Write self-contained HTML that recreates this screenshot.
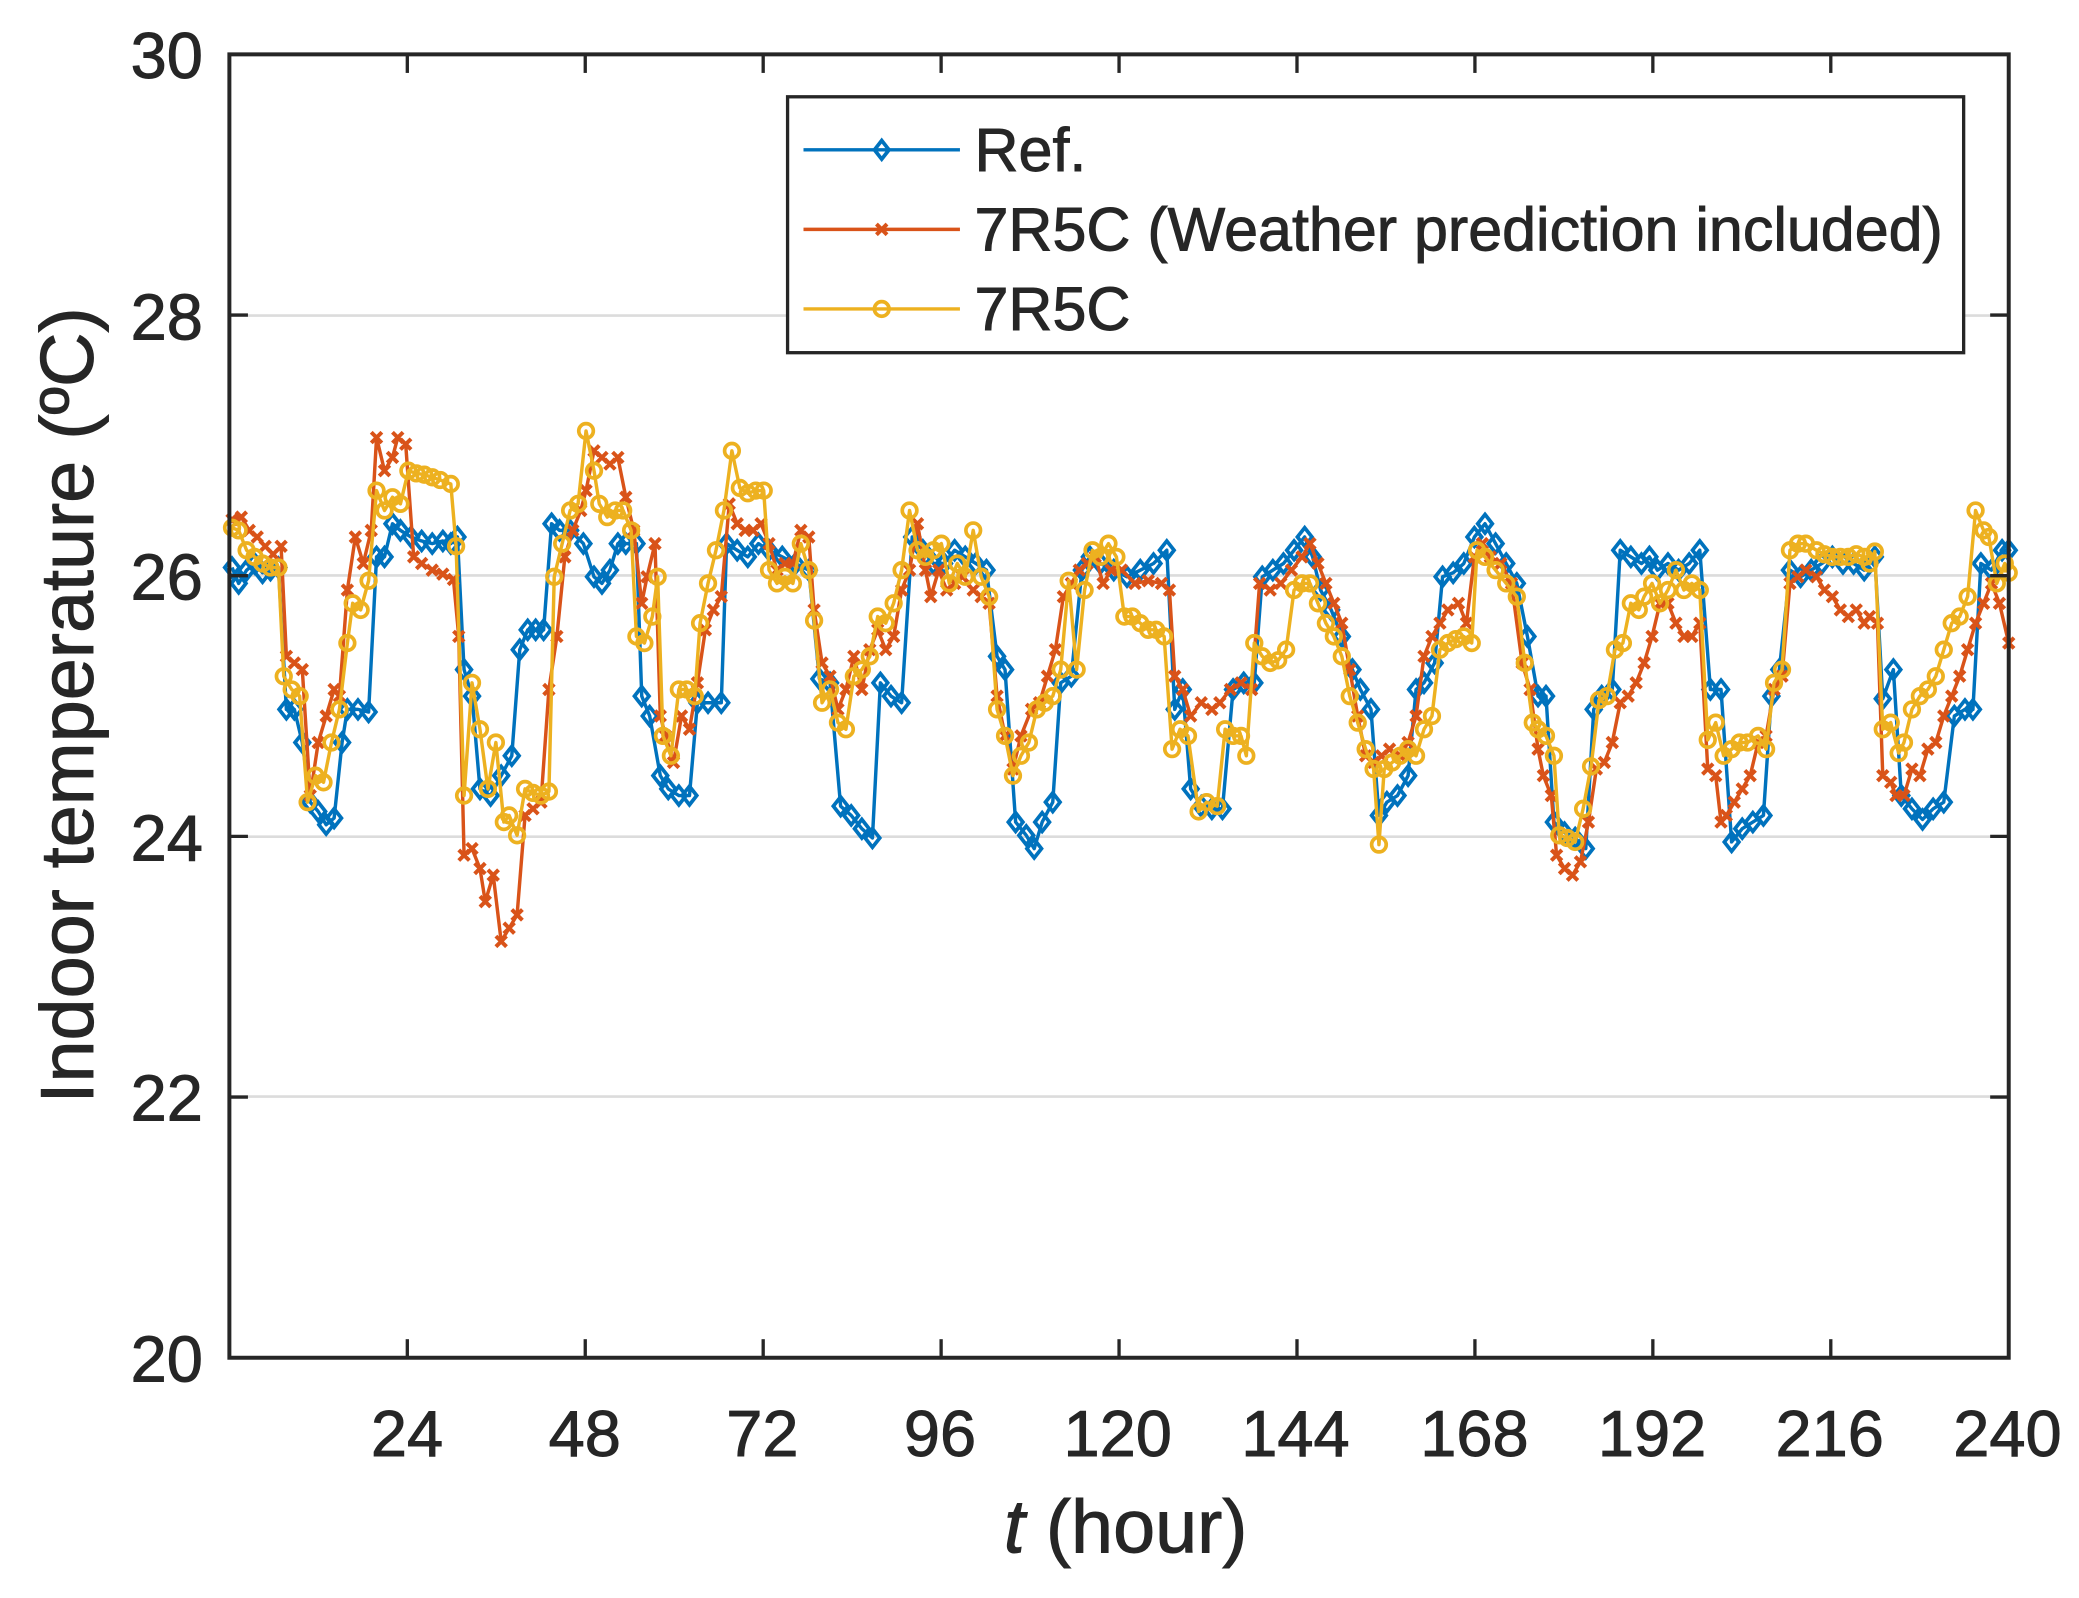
<!DOCTYPE html>
<html><head><meta charset="utf-8"><style>
html,body{margin:0;padding:0;background:#fff;}
svg{display:block;}
text{font-family:"Liberation Sans",Arial,sans-serif;fill:#262626;stroke:#262626;stroke-width:0.7;}
</style></head><body>
<svg id="s" width="2079" height="1598" viewBox="0 0 1568 1205.2" preserveAspectRatio="none" xmlns="http://www.w3.org/2000/svg">
<rect x="0" y="0" width="1568" height="1206" fill="#fff"/>
<g stroke="#dcdcdc" stroke-width="2">
<line x1="173" y1="238" x2="1515" y2="238"/>
<line x1="173" y1="434" x2="1515" y2="434"/>
<line x1="173" y1="631" x2="1515" y2="631"/>
<line x1="173" y1="827" x2="1515" y2="827"/>
</g>
<g id="series"></g>
<g stroke="#262626" stroke-width="3" fill="none">
<rect x="173" y="41" width="1342" height="983"/>
</g>
<g id="ticks" stroke="#262626" stroke-width="2.5"></g>
<g font-size="49" text-anchor="end">
<text x="153" y="59">30</text>
<text x="153" y="256">28</text>
<text x="153" y="452">26</text>
<text x="153" y="649">24</text>
<text x="153" y="845">22</text>
<text x="153" y="1042">20</text>
</g>
<g font-size="49" text-anchor="middle">
<text x="307" y="1098">24</text>
<text x="441" y="1098">48</text>
<text x="575" y="1098">72</text>
<text x="709" y="1098">96</text>
<text x="843" y="1098">120</text>
<text x="977" y="1098">144</text>
<text x="1112" y="1098">168</text>
<text x="1246" y="1098">192</text>
<text x="1380" y="1098">216</text>
<text x="1514" y="1098">240</text>
</g>
<text x="849" y="1171" font-size="57" text-anchor="middle"><tspan font-style="italic">t</tspan> (hour)</text>
<text transform="translate(70,532) rotate(-90)" font-size="57" text-anchor="middle">Indoor temperature (ºC)</text>
<rect x="594" y="73" width="887" height="193" fill="#fff" stroke="#262626" stroke-width="2.5"/>
<g id="leg"></g>
<g font-size="46">
<text x="735" y="129">Ref.</text>
<text x="735" y="189">7R5C (Weather prediction included)</text>
<text x="735" y="249">7R5C</text>
</g>
</svg>
<script>
var NS="http://www.w3.org/2000/svg";
function el(t,a,p){var e=document.createElementNS(NS,t);for(var k in a)e.setAttribute(k,a[k]);p.appendChild(e);return e;}
var tk=document.getElementById('ticks');
for(var i=1;i<10;i++){var x=173+i*134.2;el('line',{x1:x,y1:1024,x2:x,y2:1010},tk);el('line',{x1:x,y1:41,x2:x,y2:55},tk);}
for(var j=1;j<5;j++){var y=41+j*196.6;el('line',{x1:173,y1:y,x2:187,y2:y},tk);el('line',{x1:1515,y1:y,x2:1501,y2:y},tk);}
function P(s){var a=s.split(/[\s,]+/).filter(function(v){return v!=="";}).map(Number),r=[];for(var i=0;i<a.length;i+=2)r.push([a[i],a[i+1]]);return r;}
var blue=P("175 428 180 440 186 430 192 425 198 432 204 430 210 428 216 535 222 535 228 560 234 605 240 612 246 622 252 617 258 560 262 535 270 535 278 537 284 420 290 420 296 395 302 400 310 405 318 408 326 410 334 408 340 410 345 405 350 505 356 525 362 595 370 600 378 585 386 570 392 490 398 475 404 475 410 475 416 395 422 400 430 400 440 410 448 435 454 440 460 430 466 410 472 410 480 410 484 525 490 540 498 585 504 595 512 600 520 600 526 530 534 530 544 530 548 410 556 415 564 420 572 410 580 415 590 420 600 425 610 430 618 512 626 515 634 608 642 615 650 625 658 632 664 515 672 525 680 530 688 405 696 415 704 425 712 425 720 415 728 420 736 425 744 430 752 495 758 505 766 620 774 630 780 640 786 620 794 605 800 515 808 510 816 430 822 420 830 425 840 430 850 435 860 430 870 425 880 415 886 535 892 520 898 595 906 608 914 610 922 610 930 520 938 515 946 515 952 435 960 430 968 425 976 415 984 405 990 420 996 445 1004 460 1012 480 1020 505 1026 520 1034 535 1040 615 1046 605 1054 600 1062 585 1068 520 1074 515 1082 500 1088 435 1096 432 1104 425 1112 405 1120 395 1128 410 1136 425 1144 440 1152 480 1160 525 1166 525 1172 620 1180 628 1188 632 1196 640 1202 535 1208 525 1216 520 1222 415 1230 420 1238 425 1244 420 1250 430 1258 425 1266 430 1274 425 1282 415 1290 520 1298 520 1306 635 1314 625 1322 620 1330 615 1336 525 1342 505 1350 430 1358 435 1366 430 1374 425 1382 420 1390 425 1398 425 1406 430 1414 420 1420 527 1428 505 1434 600 1442 610 1450 618 1458 610 1466 605 1474 540 1482 535 1488 535 1494 425 1502 430 1510 415 1515 415");
var orange=P("175 392 182 390 188 400 194 405 200 412 206 418 212 412 216 495 222 500 228 505 234 600 240 560 246 540 252 520 256 525 262 445 268 405 274 425 280 400 284 330 290 355 296 345 300 330 306 335 312 420 318 425 326 430 334 433 342 437 346 480 350 645 356 640 362 655 366 680 372 660 378 710 384 700 390 690 396 615 402 610 408 605 414 520 420 480 426 420 432 400 438 385 442 370 448 340 454 345 460 350 466 345 472 375 478 400 484 455 488 435 494 410 498 540 502 555 508 575 514 540 520 550 526 515 532 475 538 460 544 450 550 380 556 395 562 400 568 400 574 395 580 410 586 430 592 425 598 425 604 400 610 405 614 460 620 500 626 510 632 535 638 520 644 495 650 520 656 490 662 475 668 490 674 480 680 445 686 430 692 395 698 430 702 450 708 430 714 445 720 440 726 435 734 445 740 450 746 455 752 525 758 555 764 580 770 555 778 535 784 530 790 510 796 490 802 450 808 440 814 430 820 425 826 420 832 440 838 430 846 430 856 440 866 438 876 440 882 445 886 510 892 520 898 540 906 530 914 535 920 530 928 520 936 515 944 520 950 440 958 445 966 440 974 430 982 420 988 410 994 425 1000 440 1006 455 1012 470 1018 505 1024 540 1030 570 1036 575 1042 570 1048 565 1056 570 1062 560 1068 540 1074 495 1080 480 1086 470 1092 460 1100 455 1106 470 1112 420 1118 410 1124 420 1132 425 1140 440 1148 500 1154 520 1160 565 1164 585 1170 600 1174 645 1180 655 1186 660 1192 650 1198 620 1204 580 1210 575 1216 560 1222 530 1228 525 1234 515 1240 500 1246 480 1252 455 1258 455 1264 470 1270 480 1276 480 1282 470 1288 580 1294 585 1298 620 1302 615 1308 605 1314 595 1320 585 1326 560 1332 555 1338 520 1344 510 1350 440 1356 435 1362 430 1370 435 1376 445 1382 450 1388 460 1394 465 1400 460 1406 470 1410 465 1416 470 1420 585 1426 590 1430 600 1436 600 1442 580 1448 585 1454 565 1460 560 1466 540 1472 525 1478 510 1484 490 1490 470 1496 455 1502 440 1508 455 1515 485");
var yellow=P("175 398 180 400 186 415 192 420 198 425 204 428 210 428 214 510 220 520 226 525 232 605 238 585 244 590 250 560 256 535 262 485 266 455 272 460 278 438 284 370 290 385 296 375 302 380 308 355 314 357 320 358 326 360 332 362 340 365 344 412 350 600 356 515 362 550 368 595 374 560 380 620 384 615 390 630 396 595 402 598 408 600 414 597 418 435 424 410 430 385 436 380 442 325 448 355 452 380 458 390 464 385 470 385 476 400 480 480 486 485 492 465 496 435 500 555 506 570 512 520 518 520 524 525 528 470 534 440 540 415 546 385 552 340 558 368 564 372 570 370 576 370 580 430 586 440 592 435 598 440 604 410 610 430 614 468 620 530 626 520 632 545 638 550 644 510 650 505 656 495 662 465 668 470 674 455 680 430 686 385 692 415 698 420 704 415 710 410 716 440 722 425 728 435 734 400 740 435 746 450 752 535 758 555 764 585 770 570 776 560 782 535 788 530 794 525 800 505 806 438 812 505 818 445 824 415 830 420 836 410 842 420 848 465 854 465 860 470 866 475 872 475 878 480 884 565 890 550 896 555 904 612 910 605 918 608 924 550 930 555 936 555 940 570 946 485 952 495 958 500 964 498 970 490 976 445 982 440 988 440 994 455 1000 470 1006 480 1012 495 1018 525 1024 545 1030 565 1036 580 1040 637 1044 580 1050 575 1056 570 1062 565 1068 570 1074 550 1080 540 1086 490 1092 485 1098 482 1104 480 1110 485 1114 415 1120 420 1128 430 1136 440 1144 450 1150 500 1156 545 1160 550 1166 555 1172 570 1176 630 1182 632 1188 635 1194 610 1200 578 1206 528 1212 525 1218 490 1224 485 1230 455 1236 460 1240 450 1246 440 1252 455 1258 445 1264 430 1270 445 1276 440 1282 445 1288 558 1294 545 1300 570 1306 565 1312 560 1318 560 1326 555 1332 565 1338 515 1344 505 1350 415 1356 410 1362 410 1370 415 1376 418 1382 420 1388 420 1394 420 1400 418 1406 420 1410 425 1414 416 1420 550 1426 545 1432 568 1436 560 1442 535 1448 525 1454 520 1460 510 1466 490 1472 470 1478 465 1484 450 1490 385 1496 400 1500 405 1506 440 1512 425 1515 432");
var g=document.getElementById('series');
function mk(type,x,y,c,p){
 if(type=='d'){el('polygon',{points:(x)+','+(y-7)+' '+(x+5.5)+','+y+' '+x+','+(y+7)+' '+(x-5.5)+','+y,fill:'none',stroke:c,'stroke-width':2.8},p);}
 else if(type=='x'){el('path',{d:'M'+(x-4)+' '+(y-4)+'L'+(x+4)+' '+(y+4)+'M'+(x-4)+' '+(y+4)+'L'+(x+4)+' '+(y-4),stroke:c,'stroke-width':3},p);}
 else {el('circle',{cx:x,cy:y,r:5.5,fill:'none',stroke:c,'stroke-width':2.8},p);}
}
function series(d,c,t){
 el('polyline',{points:d.map(function(q){return q.join(',');}).join(' '),fill:'none',stroke:c,'stroke-width':2.6,'stroke-linejoin':'round'},g);
 d.forEach(function(q){mk(t,q[0],q[1],c,g);});
}
series(blue,'#0072BD','d');series(orange,'#D95319','x');series(yellow,'#EDB120','o');
var L=document.getElementById('leg');
[[113,'#0072BD','d'],[173,'#D95319','x'],[233,'#EDB120','o']].forEach(function(r){
 el('line',{x1:606,y1:r[0],x2:724,y2:r[0],stroke:r[1],'stroke-width':2.6},L);mk(r[2],665,r[0],r[1],L);});
</script>
</body></html>
